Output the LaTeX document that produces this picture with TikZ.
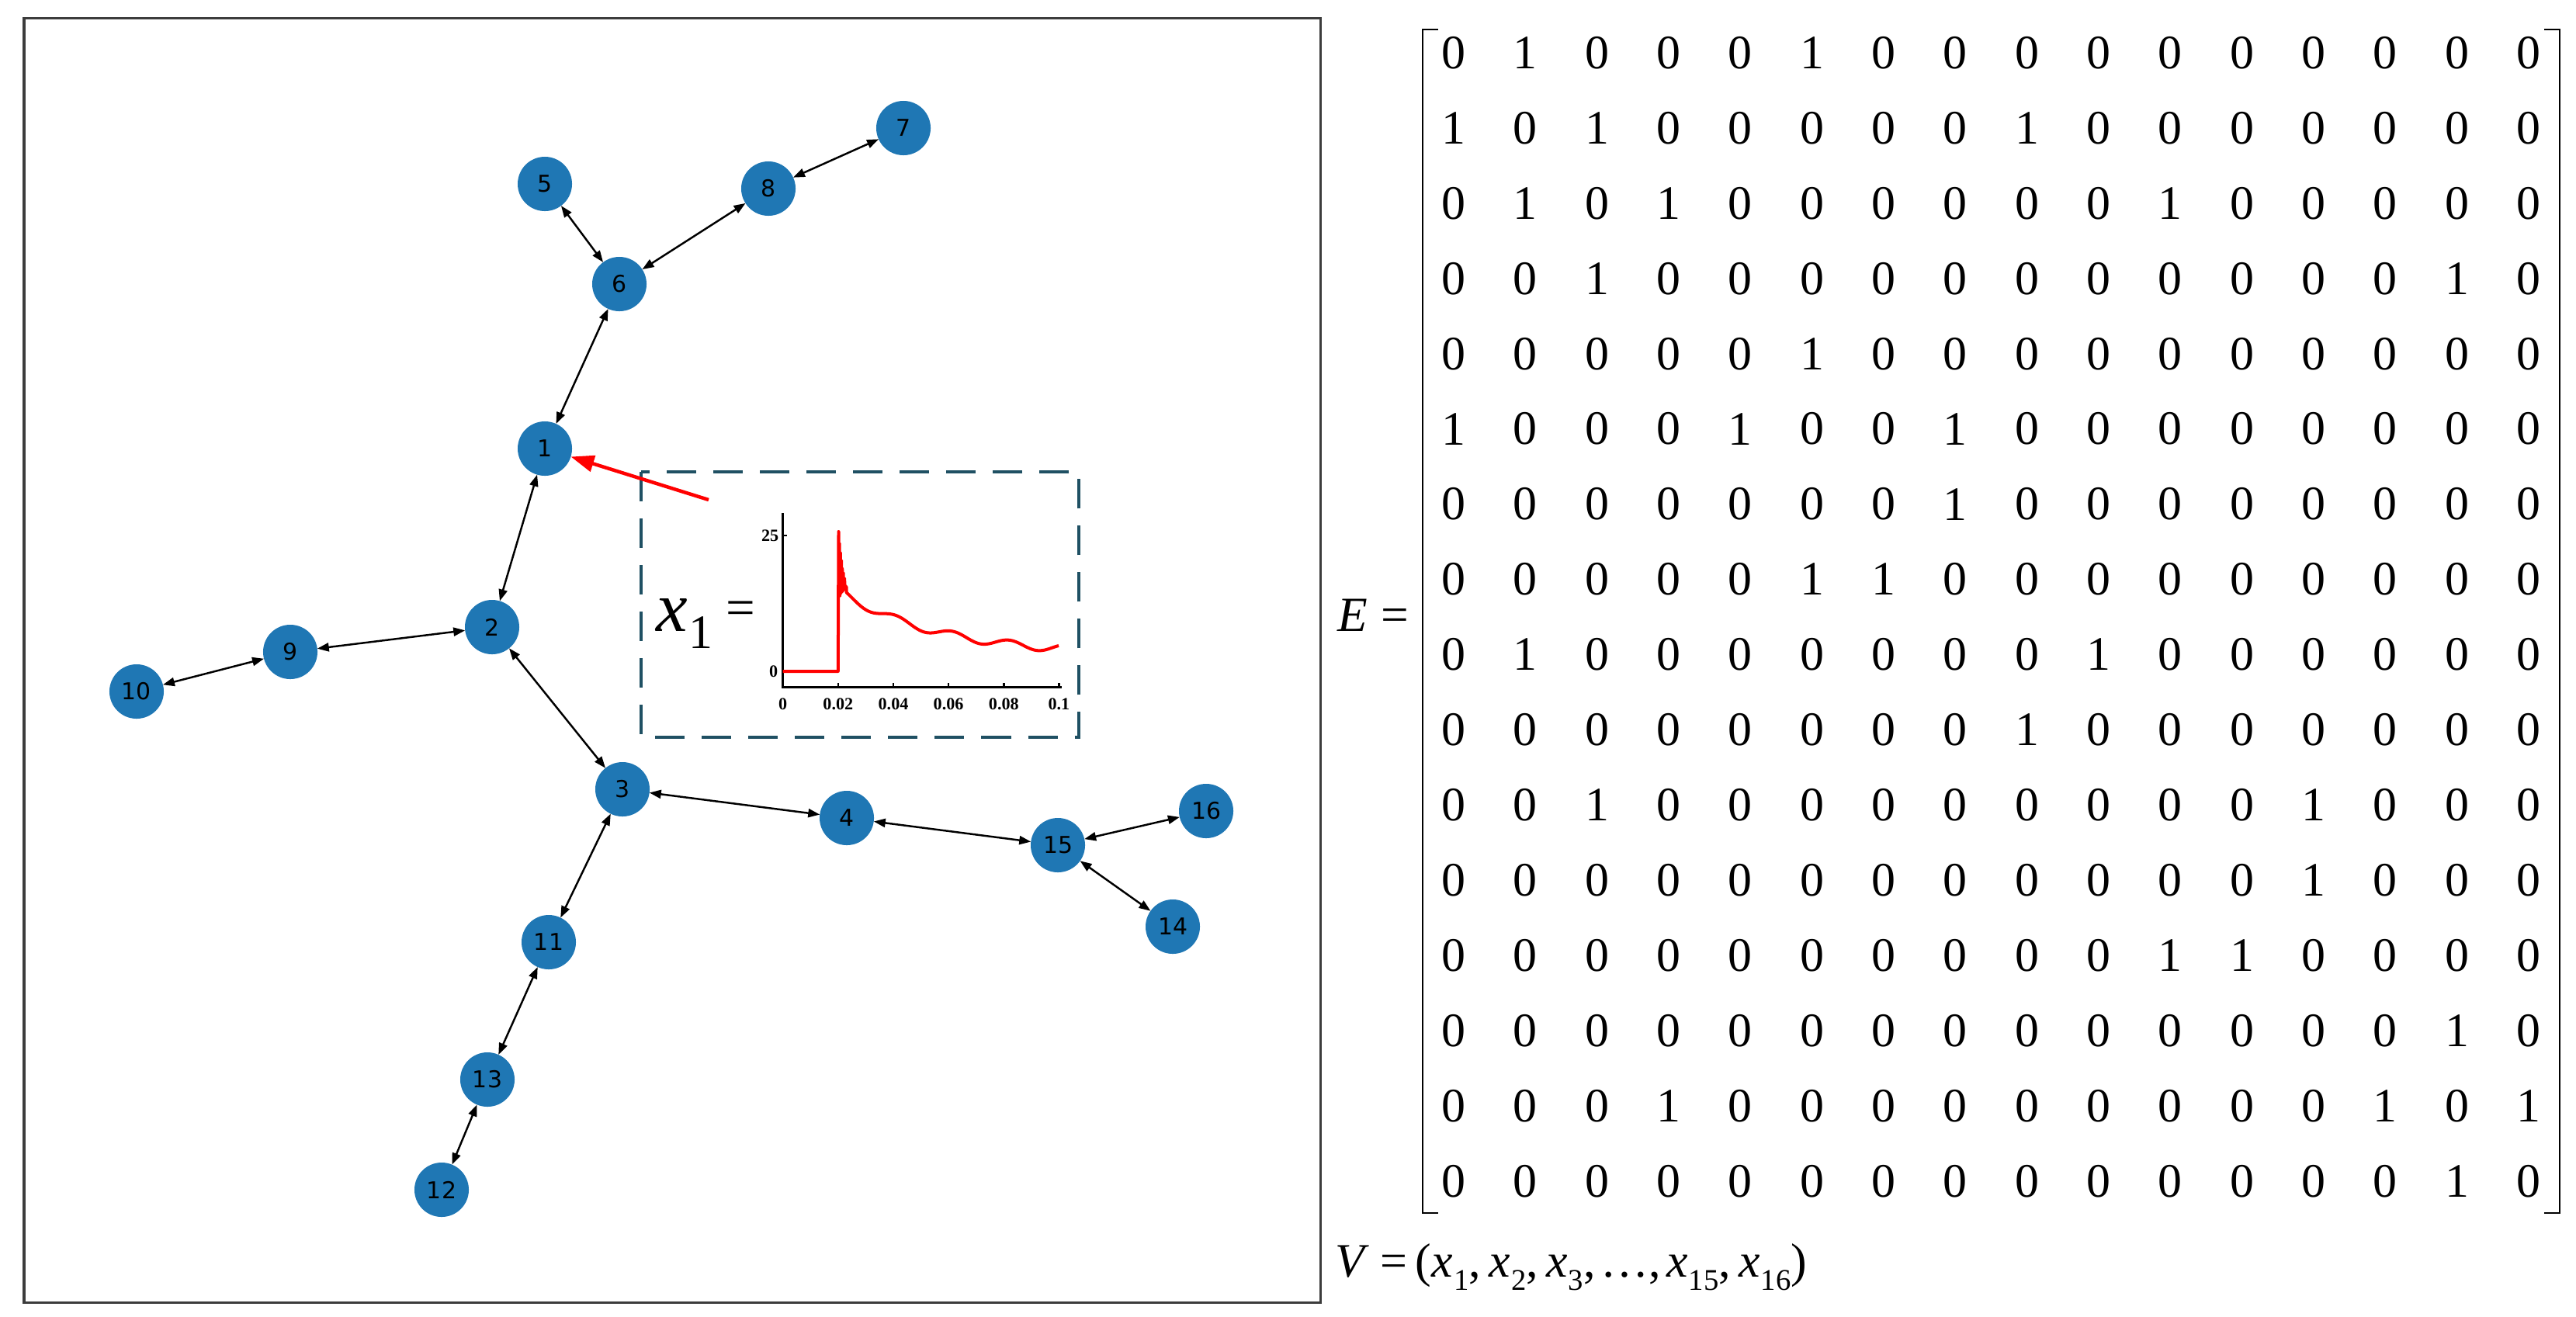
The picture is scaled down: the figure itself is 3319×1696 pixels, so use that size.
\documentclass[tikz,border=0pt]{standalone}
\usepackage{fontspec}
\setmainfont{Liberation Serif}
\newfontfamily\dvsans{DejaVu Sans}
\usetikzlibrary{arrows.meta}
\definecolor{nodeblue}{HTML}{1F77B4}
\definecolor{boxteal}{RGB}{31,80,99}
\definecolor{framegray}{RGB}{60,60,60}
\newcommand\vx[1]{\textit{x}\kern0.3pt\raisebox{-5pt}{\fontsize{11}{12}\selectfont #1}}
\begin{document}
\begin{tikzpicture}[x=0.01cm,y=-0.01cm,
  gnode/.style={circle,fill=nodeblue,minimum size=0.7cm,inner sep=0pt,outer sep=0pt,
    font=\dvsans\fontsize{8.5}{10}\selectfont,text=black},
  gedge/.style={{Triangle[length=0.15cm,width=0.11cm]}-{Triangle[length=0.15cm,width=0.11cm]},
    line width=0.7pt,black},
  matent/.style={font=\fontsize{17.6}{20}\selectfont,inner sep=0pt},
  ticklab/.style={font=\bfseries\fontsize{6.3}{7}\selectfont,inner sep=0pt},
  bracketline/.style={line width=0.8pt,black},
  axisline/.style={line width=0.03cm,black},
  redcurve/.style={line width=0.04cm,red,line join=round},
]
\useasboundingbox (0,0) rectangle (3319,1696);
\fill[white] (0,0) rectangle (3319,1696);

% frame
\draw[framegray,line width=0.03cm] (31,23) rectangle (1701,1678);

% graph nodes
\node[gnode] (n1) at (702,578) {1};
\node[gnode] (n2) at (634,808) {2};
\node[gnode] (n3) at (802,1017) {3};
\node[gnode] (n4) at (1091,1054) {4};
\node[gnode] (n5) at (702,237) {5};
\node[gnode] (n6) at (798,366) {6};
\node[gnode] (n7) at (1164,165) {7};
\node[gnode] (n8) at (990,243) {8};
\node[gnode] (n9) at (374,840) {9};
\node[gnode] (n10) at (176,891) {10};
\node[gnode] (n11) at (707,1214) {11};
\node[gnode] (n12) at (569,1533) {12};
\node[gnode] (n13) at (628,1391) {13};
\node[gnode] (n14) at (1511,1194) {14};
\node[gnode] (n15) at (1363,1089) {15};
\node[gnode] (n16) at (1554,1045) {16};

% edges
\foreach \a/\b in {5/6,6/8,8/7,6/1,1/2,2/9,9/10,2/3,3/4,4/15,15/16,15/14,3/11,11/13,13/12}
  \draw[gedge] (n\a) -- (n\b);

% inset box
\draw[boxteal,line width=0.04cm,dash pattern=on 0.38cm off 0.22cm] (826,608) rectangle (1390,950);

% red arrow
\coordinate (redstart) at (913,644);
\draw[red,line width=0.045cm,-{Triangle[length=0.3cm,width=0.21cm]}] (redstart) -- (n1);

% x_1 = label
\node[anchor=base west,inner sep=0pt,font=\itshape\fontsize{26}{28}\selectfont] (xlab) at (845,813) {x};
\node[anchor=base west,inner sep=0pt,font=\fontsize{17.6}{20}\selectfont] (xsub) at (887,835) {1};
\node[inner sep=0pt,font=\fontsize{19}{20}\selectfont] (xeq) at (954,790) {=};

% inset plot axes
\coordinate (yaxtop) at (1008.7,661);
\coordinate (orig) at (1008.7,885);
\coordinate (xaxend) at (1368,885);
\draw[axisline] (yaxtop) -- (orig) -- (xaxend);
\draw[line width=0.02cm] (1008.7,690) -- (1014,690);
\foreach \t in {0.02,0.04,0.06,0.08,0.1}
  \draw[line width=0.025cm] ({1008.7+\t*3557},885) -- ({1008.7+\t*3557},880);
\node[ticklab,anchor=east] (y25) at (1004,690) {25};
\node[ticklab,anchor=east] (y0) at (1003,865) {0};
\node[ticklab] (x0) at (1008.7,907) {0};
\node[ticklab] (x1) at (1079.8,907) {0.02};
\node[ticklab] (x2) at (1151,907) {0.04};
\node[ticklab] (x3) at (1222.1,907) {0.06};
\node[ticklab] (x4) at (1293.3,907) {0.08};
\node[ticklab] (x5) at (1364.4,907) {0.1};

% inset curve
\draw[redcurve] (1008.7,865) -- (1079.8,865) -- (1080.5,685) -- (1081,760) -- (1081.6,700) -- (1082.2,768)
  -- (1082.8,712) -- (1083.4,765) -- (1084,722) -- (1084.6,762) -- (1085.2,732) -- (1085.8,762)
  -- (1086.5,738) -- (1087.2,760) -- (1088,745) -- (1088.8,758) -- (1090.5,756)
  -- plot[domain=0.023:0.1,samples=140,variable=\t]
  ({1008.7+\t*3557},{865-7*(3+12*exp(-(\t-0.02)/0.035)+0.7*cos(deg(2*pi*(\t-0.041)/0.0205)))});

% matrix
\draw[bracketline] (1853,38) -- (1833,38) -- (1833,1563) -- (1853,1563);
\draw[bracketline] (3278,38) -- (3298,38) -- (3298,1563) -- (3278,1563);
\foreach \row [count=\i] in {
 {0,1,0,0,0,1,0,0,0,0,0,0,0,0,0,0},
 {1,0,1,0,0,0,0,0,1,0,0,0,0,0,0,0},
 {0,1,0,1,0,0,0,0,0,0,1,0,0,0,0,0},
 {0,0,1,0,0,0,0,0,0,0,0,0,0,0,1,0},
 {0,0,0,0,0,1,0,0,0,0,0,0,0,0,0,0},
 {1,0,0,0,1,0,0,1,0,0,0,0,0,0,0,0},
 {0,0,0,0,0,0,0,1,0,0,0,0,0,0,0,0},
 {0,0,0,0,0,1,1,0,0,0,0,0,0,0,0,0},
 {0,1,0,0,0,0,0,0,0,1,0,0,0,0,0,0},
 {0,0,0,0,0,0,0,0,1,0,0,0,0,0,0,0},
 {0,0,1,0,0,0,0,0,0,0,0,0,1,0,0,0},
 {0,0,0,0,0,0,0,0,0,0,0,0,1,0,0,0},
 {0,0,0,0,0,0,0,0,0,0,1,1,0,0,0,0},
 {0,0,0,0,0,0,0,0,0,0,0,0,0,0,1,0},
 {0,0,0,1,0,0,0,0,0,0,0,0,0,1,0,1},
 {0,0,0,0,0,0,0,0,0,0,0,0,0,0,1,0}}
{
  \foreach \v [count=\j] in \row
    \node[matent] (m\i-\j) at ({1873+(\j-1)*92.33},{68+(\i-1)*96.93}) {\v};
}

% labels
\node[anchor=east,inner sep=0pt,font=\fontsize{18}{20}\selectfont] (elab) at (1816,793) {\textit{E}\hspace{5pt}=};
\node[anchor=base west,inner sep=0pt,font=\fontsize{17.6}{20}\selectfont] (vlab) at (1720,1645)
  {\textit{V}\hspace{4pt}=\hspace{3pt}(\vx{1},\hspace{3pt}\vx{2},\hspace{3pt}\vx{3},\hspace{2pt}\dots,\hspace{2pt}\vx{15},\hspace{3pt}\vx{16})};
\end{tikzpicture}
\end{document}
